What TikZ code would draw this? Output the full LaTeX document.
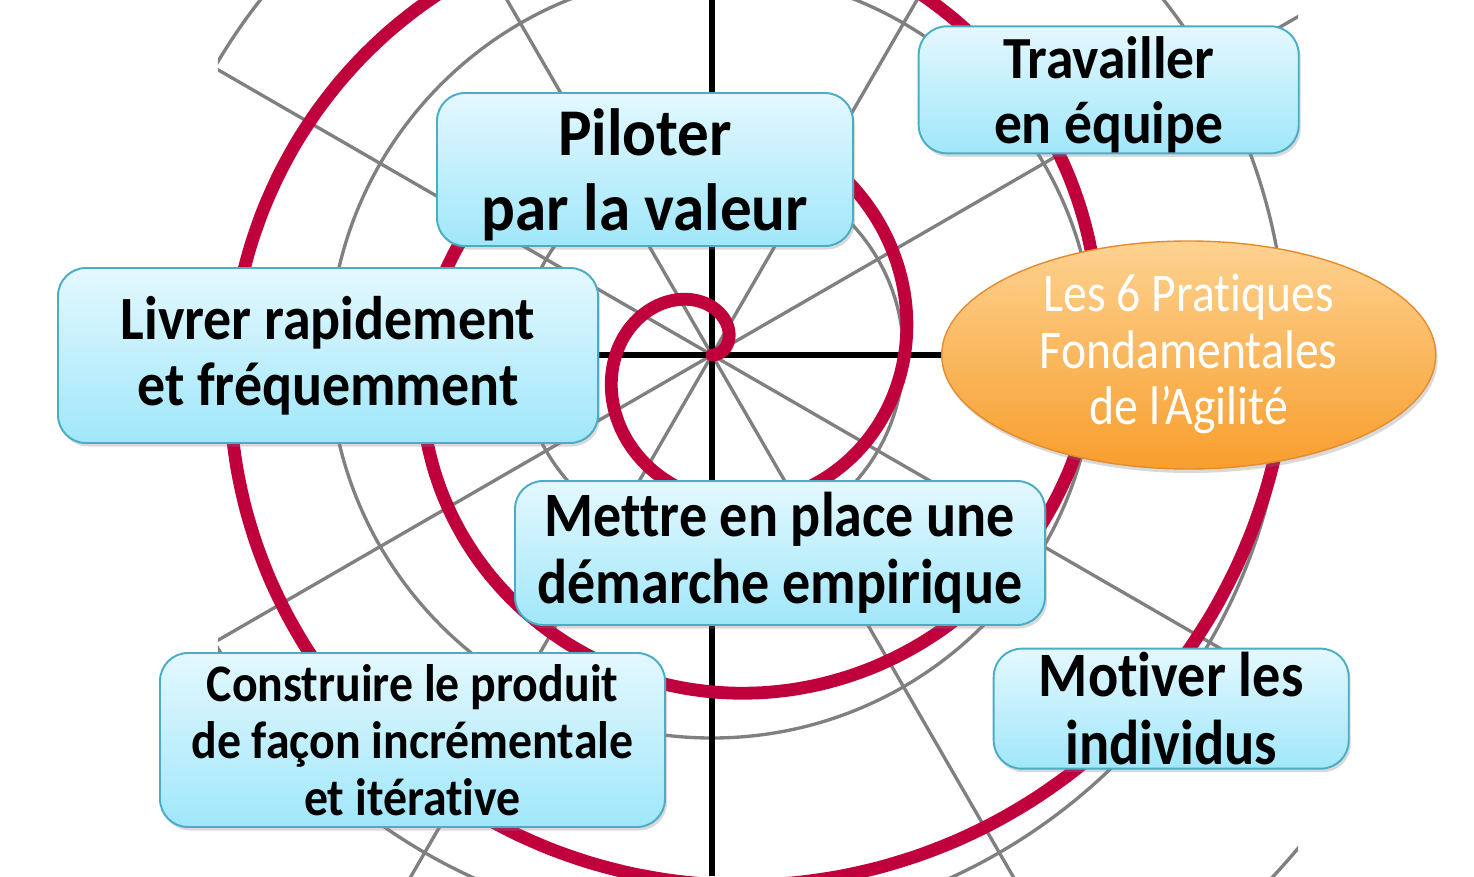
\documentclass[tikz,border=0pt]{standalone}
\usepackage{fontspec}
\setmainfont{Carlito}[Ligatures=NoCommon]
\usetikzlibrary{positioning}
\usetikzlibrary{shapes.geometric}
\usetikzlibrary{shadows}

\definecolor{spiralred}{RGB}{192,0,60}
\definecolor{boxline}{RGB}{75,172,198}
\definecolor{boxtop}{RGB}{228,248,254}
\definecolor{boxbottom}{RGB}{160,231,250}
\definecolor{coretop}{RGB}{253,210,145}
\definecolor{corebottom}{RGB}{248,158,45}
\definecolor{coreline}{RGB}{228,140,45}

\begin{document}
\begin{tikzpicture}[
          thick,
          node distance=1.6cm,
          every node/.style={font=\bfseries}
        ]

          % styles
          \tikzstyle{grid}=[draw=gray, line width=1.9pt]
          \tikzstyle{axis}=[draw=black, line width=3.8pt]
          \tikzstyle{spiral}=[draw=spiralred, line width=7.3pt, line cap=round]
          \tikzstyle{practice}=[rectangle, rounded corners=0.56cm, draw=boxline, line width=1.1pt, top color=boxtop, bottom color=boxbottom, align=center, inner sep=0pt, drop shadow={shadow xshift=0.04cm, shadow yshift=-0.07cm, opacity=0.3}]
          \tikzstyle{core}=[ellipse, draw=coreline, line width=0.8pt, top color=coretop, bottom color=corebottom, inner sep=0pt, minimum width=9.88cm, minimum height=4.56cm, drop shadow={shadow xshift=0.04cm, shadow yshift=-0.08cm, opacity=0.3}]
          \tikzstyle{coretext}=[text=white, align=center, inner sep=0pt, font=\fontsize{31}{32.4}\selectfont\mdseries\addfontfeatures{FakeStretch=0.876}]

          \useasboundingbox (-14.24,-10.42) rectangle (15.24,7.1);
          \coordinate (O) at (0,0);

          % polar grid and spiral
          \begin{scope}
            \clip (-9.88,-10.42) rectangle (11.72,7.1);
            \foreach \r in {1,...,4}
              \draw[grid] (O) circle ({3.83*\r});
            \foreach \a in {30,60,120,150,210,240,300,330}
              \draw[grid] (O) -- (\a:16);
            \draw[axis] (-9.88,0) -- (11.72,0);
            \draw[axis] (0,-10.42) -- (0,7.1);
            \draw[spiral] plot[domain=0:1080, samples=241, smooth, variable=\t] (\t:{3.85*\t/360});
          \end{scope}

          % centre
          \node[core, right=4.58cm of O] (core) {};
          \node[coretext] (coretitle) at ([yshift=0.02cm]core.center) {Les 6 Pratiques\\Fondamentales\\de l’Agilité};

          % practices
          \node[practice, minimum width=8.32cm, minimum height=3.06cm, text depth=0pt, font=\fontsize{38}{42.7}\selectfont\bfseries\addfontfeatures{FakeStretch=0.945}] (pilot) at (-1.34,3.71) {Piloter\\par la valeur};
          \node[practice, minimum width=7.6cm, minimum height=2.54cm, text depth=0pt, font=\fontsize{34}{37}\selectfont\bfseries\addfontfeatures{FakeStretch=0.93}, above=1.72cm of core, xshift=-1.6cm] (team) {Travailler\\en équipe};
          \node[practice, minimum width=10.8cm, minimum height=3.5cm, font=\fontsize{35}{37.5}\selectfont\bfseries\addfontfeatures{FakeStretch=0.91}] (deliver) at (-7.68,-0.01) {Livrer rapidement\\et fréquemment};
          \node[practice, minimum width=10.6cm, minimum height=2.88cm, font=\fontsize{36}{38}\selectfont\bfseries\addfontfeatures{FakeStretch=0.886}] (empiric) at (1.36,-3.96) {Mettre en place une\\démarche empirique};
          \node[practice, minimum width=10.1cm, minimum height=3.48cm, font=\fontsize{30}{32.4}\selectfont\bfseries\addfontfeatures{FakeStretch=0.907}] (build) at (-5.99,-7.7) {Construire le produit\\de façon incrémentale\\et itérative};
          \node[practice, minimum width=7.1cm, minimum height=2.4cm, font=\fontsize{36}{38.7}\selectfont\bfseries\addfontfeatures{FakeStretch=0.89}, below=3.56cm of core, xshift=-0.35cm] (motivate) {Motiver les\\individus};

        \end{tikzpicture}
\end{document}
